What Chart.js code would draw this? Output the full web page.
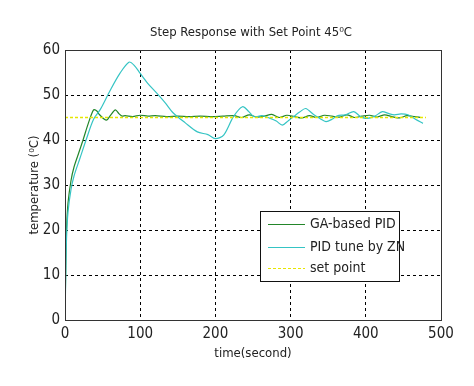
<!DOCTYPE html>
<html>
<head>
<meta charset="utf-8">
<script src="https://cdn.jsdelivr.net/npm/chart.js@4.4.1/dist/chart.umd.min.js"></script>
<style>
  html, body { margin: 0; padding: 0; background: #fff; }
  #wrap { width: 474px; height: 386px; }
</style>
</head>
<body>
<div id="wrap"><canvas id="myChart" width="474" height="386"></canvas></div>
<script>
// data
const gaTime = [0, 1, 2, 4, 8, 12, 18, 24, 31, 38, 42, 46, 55, 61, 67, 72, 76, 80, 90, 100, 110, 120, 135, 150, 165, 180, 195, 210, 225, 235, 245, 255, 265, 275, 285, 295, 305, 315, 325, 335, 345, 355, 365, 375, 385, 395, 405, 415, 425, 435, 445, 455, 465, 473];
const gaTemp = [0, 12, 20, 26, 31, 34, 37, 40, 43.7, 46.7, 46.5, 45.6, 44.4, 45.6, 46.7, 45.8, 45.3, 45.4, 45.2, 45.5, 45.3, 45.4, 45.2, 45.3, 45.2, 45.3, 45.2, 45.3, 45.4, 45.0, 45.6, 45.1, 45.3, 45.7, 45.0, 45.5, 45.2, 44.9, 45.4, 45.0, 45.5, 45.3, 45.1, 45.6, 45.0, 45.3, 45.5, 45.1, 45.6, 45.2, 44.9, 45.4, 45.2, 45.0];

const znTime = [0, 1, 2, 4, 8, 12, 20, 28, 38, 47, 60, 73, 85, 92, 100, 110, 122, 133, 144, 160, 176, 190, 200, 211, 224, 236, 244, 251, 262, 273, 281, 289, 297, 304, 312, 320, 331, 339, 347, 355, 362, 373, 384, 393, 402, 412, 422, 430, 438, 447, 456, 466, 476];
const znTemp = [0, 10, 18, 24, 29, 32, 36, 40, 44.6, 46.8, 51, 54.8, 57.3, 56.6, 54.8, 52.6, 50.4, 48.3, 46, 43.8, 41.8, 41.2, 40.3, 41.1, 45.2, 47.4, 46.4, 45.2, 45.4, 44.8, 44.2, 43.3, 44.3, 45.2, 46.2, 47.0, 45.6, 44.8, 44.1, 44.6, 45.4, 45.6, 46.3, 45.2, 44.8, 45.3, 46.3, 45.9, 45.6, 45.8, 45.6, 44.6, 43.7];

const spTime = [0, 480];
const spTemp = [45, 45];

const xTicks = [0, 100, 200, 300, 400, 500];
const yTicks = [0, 10, 20, 30, 40, 50, 60];

const seriesNames = ['GA-based PID', 'PID tune by ZN', 'set point'];

const FONT = '"Liberation Sans Narrow", "Arial Narrow", "DejaVu Sans Condensed", sans-serif';

function pts(xs, ys) {
  return xs.map((x, i) => ({ x: x, y: ys[i] }));
}

// box around the axes, like matlab
const boxPlugin = {
  id: 'box',
  afterDraw(chart) {
    const a = chart.chartArea;
    const ctx = chart.ctx;
    ctx.save();
    ctx.strokeStyle = '#333';
    ctx.lineWidth = 1;
    ctx.setLineDash([]);
    ctx.strokeRect(Math.round(a.left) + 0.5, Math.round(a.top) + 0.5, Math.round(a.right - a.left), Math.round(a.bottom - a.top));
    ctx.restore();
  }
};

// legend drawn inside the plot
const legendBox = {
  id: 'legendBox',
  afterDraw(chart) {
    const ctx = chart.ctx;
    const x0 = 260, y0 = 211, w = 139, h = 70;
    ctx.save();
    ctx.fillStyle = '#fff';
    ctx.fillRect(x0, y0, w, h);
    ctx.strokeStyle = '#111';
    ctx.lineWidth = 1;
    ctx.setLineDash([]);
    ctx.strokeRect(x0 + 0.5, y0 + 0.5, w, h);
    const rows = [224, 247, 268];
    ctx.font = '14px ' + FONT;
    ctx.textBaseline = 'middle';
    chart.data.datasets.forEach((ds) => {
      const i = seriesNames.indexOf(ds.label);
      const y = rows[i] + 0.5;
      ctx.strokeStyle = ds.borderColor;
      ctx.lineWidth = 1.2;
      ctx.setLineDash(ds.borderDash || []);
      ctx.beginPath();
      ctx.moveTo(268, y);
      ctx.lineTo(305, y);
      ctx.stroke();
      ctx.setLineDash([]);
      ctx.fillStyle = '#222';
      ctx.fillText(ds.label, 310, rows[i]);
    });
    ctx.restore();
  }
};

// plot title
const titlePlugin = {
  id: 'topTitle',
  afterDraw(chart) {
    const ctx = chart.ctx;
    ctx.save();
    ctx.font = '13px ' + FONT;
    ctx.fillStyle = '#222';
    ctx.textAlign = 'center';
    ctx.textBaseline = 'middle';
    ctx.fillText('Step Response with Set Point 45\u2070C', 251, 33);
    ctx.restore();
  }
};

const ctx = document.getElementById('myChart');
new Chart(ctx, {
  type: 'line',
  data: {
    datasets: [
      {
        label: seriesNames[2],
        data: pts(spTime, spTemp),
        borderColor: '#e6e600',
        borderWidth: 1.3,
        borderDash: [3, 2],
        pointRadius: 0,
        order: 0,
      },
      {
        label: seriesNames[1],
        data: pts(znTime, znTemp),
        borderColor: '#35c4c4',
        borderWidth: 1.2,
        pointRadius: 0,
        tension: 0.3,
        order: 1,
      },
      {
        label: seriesNames[0],
        data: pts(gaTime, gaTemp),
        borderColor: '#23862a',
        borderWidth: 1.2,
        pointRadius: 0,
        tension: 0.3,
        order: 2,
      },
    ],
  },
  options: {
    responsive: false,
    animation: false,
    layout: { padding: { top: 50, right: 33, bottom: 0, left: 0 } },
    plugins: {
      legend: { display: false },
      tooltip: { enabled: false },
    },
    scales: {
      x: {
        type: 'linear',
        min: 0,
        max: 500,
        afterBuildTicks: (s) => { s.ticks = xTicks.map((v) => ({ value: v })); },
        afterFit: (s) => { s.height = 66; },
        ticks: { color: '#222', font: { family: FONT, size: 15 }, padding: 5, maxRotation: 0 },
        grid: { color: '#000', lineWidth: 1, drawTicks: false },
        border: { display: false, dash: [3, 3] },
        title: {
          display: true,
          text: 'time(second)',
          color: '#222',
          font: { family: FONT, size: 13 },
          padding: { top: 0, bottom: 25 },
        },
      },
      y: {
        min: 0,
        max: 60,
        afterBuildTicks: (s) => { s.ticks = yTicks.map((v) => ({ value: v })); },
        afterFit: (s) => { s.width = 65; },
        ticks: { color: '#222', font: { family: FONT, size: 15 }, padding: 5 },
        grid: { color: '#000', lineWidth: 1, drawTicks: false },
        border: { display: false, dash: [3, 3] },
        title: {
          display: true,
          text: 'temperature (\u2070C)',
          color: '#222',
          font: { family: FONT, size: 13 },
          padding: { top: 27, bottom: 0 },
        },
      },
    },
  },
  plugins: [boxPlugin, legendBox, titlePlugin],
});
</script>
</body>
</html>
